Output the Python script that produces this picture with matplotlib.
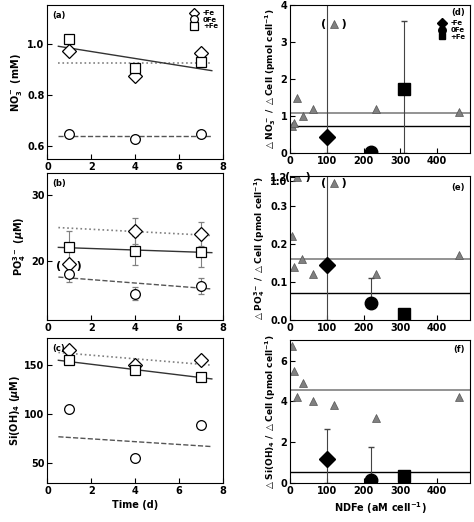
import matplotlib.pyplot as plt
import numpy as np

plt.rcParams['font.family'] = 'DejaVu Sans'
plt.rcParams['font.weight'] = 'bold'
plt.rcParams['axes.labelweight'] = 'bold'

days = [1, 4, 7]
line_x = [0.5, 7.5]

# left panels: time series
no3_m = [0.97, 0.875, 0.965]
no3_0 = [0.65, 0.63, 0.65]
no3_p = [1.02, 0.905, 0.93]
no3_lines = {"dot": [0.925, 0.925], "solid": [0.99, 0.895], "dash": [0.64, 0.64]}

po4_m = [19.5, 24.5, 24.0]
po4_m_err = [0, 2.0, 1.8]
po4_0 = [18.0, 15.0, 16.2]
po4_0_err = [1.2, 1.0, 1.2]
po4_p = [22.0, 21.5, 21.3]
po4_p_err = [2.5, 2.2, 2.2]
po4_lines = {"dot": [25.0, 23.8], "solid": [22.0, 21.2], "dash": [17.5, 15.7]}

si_m = [166, 150, 155]
si_0 = [105, 55, 89]
si_p = [155, 145, 138]
si_lines = {"dot": [163, 150], "solid": [155, 136], "dash": [77, 67]}

# right panels: ratio vs NDFe
tri_x = [5, 12, 20, 35, 62, 120, 235, 460]
d_tri = [0.72, 0.8, 1.5, 1.0, 1.2, 3.5, 1.2, 1.1]
e_tri_x = [5, 12, 20, 33, 62, 120, 235, 460]
e_tri = [0.22, 0.14, 1.2, 0.16, 0.12, 0.36, 0.12, 0.17]
f_tri = [6.7, 5.5, 4.2, 4.9, 4.0, 3.8, 3.2, 4.2]
fe_x = [100, 220, 310]
d_fe = [0.42, 0.02, 1.72]
d_lo = [0.42, 0.02, 1.72]
d_hi = [3.6, 0, 1.86]
e_fe = [0.145, 0.045, 0.015]
e_lo = [0.145, 0, 0]
e_hi = [1.2, 0.065, 0]
f_fe = [1.15, 0.15, 0.35]
f_lo = [1.15, 0, 0]
f_hi = [1.5, 1.6, 0]
d_h = [1.07, 0.72]
e_h = [0.16, 0.07]
f_h = [4.55, 0.55]

fig = plt.figure(figsize=(4.74, 5.22), dpi=100)
L = [fig.add_axes([0.10, 0.695, 0.37, 0.295]),
     fig.add_axes([0.10, 0.387, 0.37, 0.282]),
     fig.add_axes([0.10, 0.075, 0.37, 0.278])]
R = [fig.add_axes([0.612, 0.707, 0.38, 0.283]),
     fig.add_axes([0.612, 0.387, 0.38, 0.276]),
     fig.add_axes([0.612, 0.075, 0.38, 0.273])]

mk = dict(ms=7, mfc='white', mec='black', mew=0.9, ls='none')


def left(ax, m, z, p, lines, merr=None, zerr=None, perr=None):
    ax.plot(line_x, lines["dot"], color='gray', ls=':', lw=1.2)
    ax.plot(line_x, lines["solid"], color='#333333', ls='-', lw=1)
    ax.plot(line_x, lines["dash"], color='#555555', ls='--', lw=1)
    ax.errorbar(days, m, yerr=merr, marker='D', ecolor='gray', capsize=2, elinewidth=0.8, label='-Fe', **mk)
    ax.errorbar(days, z, yerr=zerr, marker='o', ecolor='gray', capsize=2, elinewidth=0.8, label='0Fe', **mk)
    ax.errorbar(days, p, yerr=perr, marker='s', ecolor='gray', capsize=2, elinewidth=0.8, label='+Fe', **mk)
    ax.set_xlim(0, 8)
    ax.set_xticks([0, 2, 4, 6, 8])
    ax.tick_params(labelsize=7, direction='in', pad=2)


left(L[0], no3_m, no3_0, no3_p, no3_lines)
L[0].set_ylim(0.55, 1.15)
L[0].set_yticks([0.6, 0.8, 1.0])
L[0].set_ylabel(r'NO$_3^-$ (mM)', fontsize=7, labelpad=2)
L[0].legend(loc='upper right', fontsize=5, frameon=False, handletextpad=0.2, labelspacing=0.1, borderpad=0.2, markerscale=0.8)
L[0].text(0.03, 0.96, '(a)', transform=L[0].transAxes, fontsize=6, va='top')

left(L[1], po4_m, po4_0, po4_p, po4_lines, po4_m_err, po4_0_err, po4_p_err)
L[1].set_ylim(11, 33.3)
L[1].set_yticks([20, 30])
L[1].set_ylabel(r'PO$_4^{3-}$ ($\mu$M)', fontsize=7, labelpad=2)
L[1].text(0.03, 0.96, '(b)', transform=L[1].transAxes, fontsize=6, va='top')
L[1].text(1, 19.2, '(    )', ha='center', va='center', fontsize=8)

left(L[2], si_m, si_0, si_p, si_lines)
L[2].set_ylim(30, 178)
L[2].set_yticks([50, 100, 150])
L[2].set_ylabel(r'Si(OH)$_4$ ($\mu$M)', fontsize=7, labelpad=2)
L[2].set_xlabel('Time (d)', fontsize=7, labelpad=3)
L[2].text(0.03, 0.96, '(c)', transform=L[2].transAxes, fontsize=6, va='top')


def right(ax, tx, ty, fy, lo, hi, hl):
    ax.axhline(hl[0], color='gray', lw=1.2)
    ax.axhline(hl[1], color='black', lw=1)
    ax.plot(tx, ty, ls='none', marker='^', ms=6, mfc='gray', mec='#555555', mew=0.5)
    ax.errorbar(fe_x, fy, yerr=[lo, hi], fmt='none', ecolor='#444444', elinewidth=0.8, capsize=2)
    ax.plot(fe_x[0], fy[0], 'D', color='black', ms=8, label='-Fe')
    ax.plot(fe_x[1], fy[1], 'o', color='black', ms=9, label='0Fe')
    ax.plot(fe_x[2], fy[2], 's', color='black', ms=8, label='+Fe')
    ax.set_xlim(0, 490)
    ax.set_xticks([0, 100, 200, 300, 400])
    ax.tick_params(labelsize=7, direction='in', pad=2)


right(R[0], tri_x, d_tri, d_fe, d_lo, d_hi, d_h)
R[0].set_ylim(0, 4)
R[0].set_yticks([0, 1, 2, 3, 4])
R[0].set_ylabel(r'$\triangle$NO$_3^-$ / $\triangle$Cell (pmol cell$^{-1}$)', fontsize=6.5, labelpad=2)
R[0].legend(loc='upper right', bbox_to_anchor=(1.0, 0.93), fontsize=5, frameon=False, handletextpad=0.2,
            labelspacing=0.1, borderpad=0.2, markerscale=0.6)
R[0].text(0.97, 0.98, '(d)', transform=R[0].transAxes, fontsize=6, va='top', ha='right')
R[0].text(120, 3.5, '(    )', ha='center', va='center', fontsize=8)


def fwd(y):
    y = np.asarray(y, dtype=float)
    return np.where(y <= 0.36, y, np.where(y <= 1.0, 0.36 + (y - 0.36) * 0.01, 0.3664 + (y - 1.0) * 0.05))


def inv(v):
    v = np.asarray(v, dtype=float)
    return np.where(v <= 0.36, v, np.where(v <= 0.3664, 0.36 + (v - 0.36) / 0.01, 1.0 + (v - 0.3664) / 0.05))


right(R[1], e_tri_x, e_tri, e_fe, e_lo, e_hi, e_h)
R[1].set_yscale('function', functions=(fwd, inv))
R[1].set_ylim(0, 1.25)
R[1].set_yticks([0.0, 0.1, 0.2, 0.3, 1.0, 1.2])
R[1].set_yticklabels(['0.0', '0.1', '0.2', '0.3', '1.0', '1.2'])
R[1].set_ylabel(r'$\triangle$PO$_4^{3-}$ / $\triangle$Cell (pmol cell$^{-1}$)', fontsize=6.5, labelpad=2)
R[1].text(0.97, 0.95, '(e)', transform=R[1].transAxes, fontsize=6, va='top', ha='right')
R[1].text(120, 0.36, '(    )', ha='center', va='center', fontsize=8)
R[1].text(20, 1.2, '(    )', ha='center', va='center', fontsize=8)

right(R[2], tri_x, f_tri, f_fe, f_lo, f_hi, f_h)
R[2].set_ylim(0, 7)
R[2].set_yticks([0, 2, 4, 6])
R[2].set_ylabel(r'$\triangle$Si(OH)$_4$ / $\triangle$Cell (pmol cell$^{-1}$)', fontsize=6.5, labelpad=2)
R[2].set_xlabel(r'NDFe (aM cell$^{-1}$)', fontsize=7, labelpad=3)
R[2].text(0.97, 0.97, '(f)', transform=R[2].transAxes, fontsize=6, va='top', ha='right')

fig.savefig('out.png', dpi=100)
